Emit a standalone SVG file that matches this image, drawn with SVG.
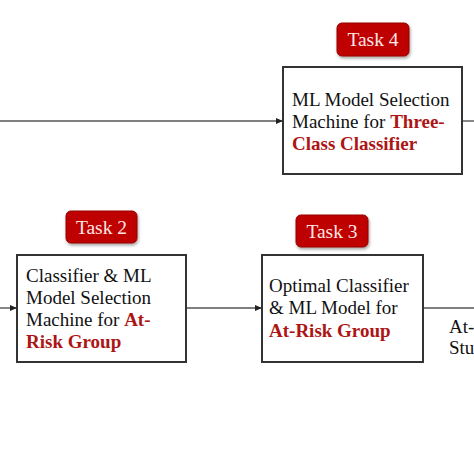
<svg xmlns="http://www.w3.org/2000/svg" width="474" height="474" viewBox="0 0 474 474">
<defs>
<marker id="arr" markerWidth="8" markerHeight="8" refX="7" refY="4" orient="auto" markerUnits="userSpaceOnUse">
<path d="M0,1 L7,4 L0,7 Z" fill="#222"/>
</marker>
<filter id="sh" x="-20%" y="-20%" width="140%" height="150%">
<feDropShadow dx="1" dy="2" stdDeviation="1.5" flood-color="#000" flood-opacity="0.35"/>
</filter>
</defs>
<style>
.box{fill:#fff;stroke:#333;stroke-width:2}
.badge{fill:#bf0000;stroke:#960000;stroke-width:1}
.bt{font-family:"Liberation Serif",serif;font-size:19.5px;fill:#fde8e8}
.t{font-family:"Liberation Serif",serif;font-size:19px;fill:#111}
.r{fill:#ad1515;font-weight:bold}
.ln{stroke:#555;stroke-width:1.4;fill:none}
</style>
<rect width="474" height="474" fill="#fff"/>
<g id="connectors">
<line class="ln" x1="0" y1="121" x2="283" y2="121" marker-end="url(#arr)"/>
<line class="ln" x1="462" y1="121" x2="474" y2="121"/>
<line class="ln" x1="0" y1="308" x2="17" y2="308" marker-end="url(#arr)"/>
<line class="ln" x1="186" y1="308" x2="262" y2="308" marker-end="url(#arr)"/>
<line class="ln" x1="423" y1="308" x2="474" y2="308"/>
</g>
<g id="task4">
<rect class="badge" x="337" y="23" width="72" height="33" rx="5" filter="url(#sh)"/>
<text class="bt" x="373" y="46" text-anchor="middle">Task 4</text>
</g>
<g id="node4">
<rect class="box" x="283" y="67" width="179" height="107"/>
<text class="t" x="292" y="106">ML Model Selection</text>
<text class="t" x="292" y="128">Machine for <tspan class="r">Three-</tspan></text>
<text class="t" x="292" y="150"><tspan class="r">Class Classifier</tspan></text>
</g>
<g id="task2">
<rect class="badge" x="66" y="211" width="71" height="32" rx="5" filter="url(#sh)"/>
<text class="bt" x="101.5" y="234" text-anchor="middle">Task 2</text>
</g>
<g id="node2">
<rect class="box" x="17" y="255" width="169" height="107"/>
<text class="t" x="26" y="282">Classifier &amp; ML</text>
<text class="t" x="26" y="304">Model Selection</text>
<text class="t" x="26" y="326">Machine for <tspan class="r">At-</tspan></text>
<text class="t" x="26" y="348"><tspan class="r">Risk Group</tspan></text>
</g>
<g id="task3">
<rect class="badge" x="296" y="215" width="72" height="32" rx="5" filter="url(#sh)"/>
<text class="bt" x="332" y="238" text-anchor="middle">Task 3</text>
</g>
<g id="node3">
<rect class="box" x="262" y="255" width="161" height="107"/>
<text class="t" x="269" y="292">Optimal Classifier</text>
<text class="t" x="269" y="314">&amp; ML Model for</text>
<text class="t" x="269" y="337"><tspan class="r">At-Risk Group</tspan></text>
</g>
<g id="label">
<text class="t" x="449" y="333">At-</text>
<text class="t" x="449" y="354">Stu</text>
</g>
</svg>
